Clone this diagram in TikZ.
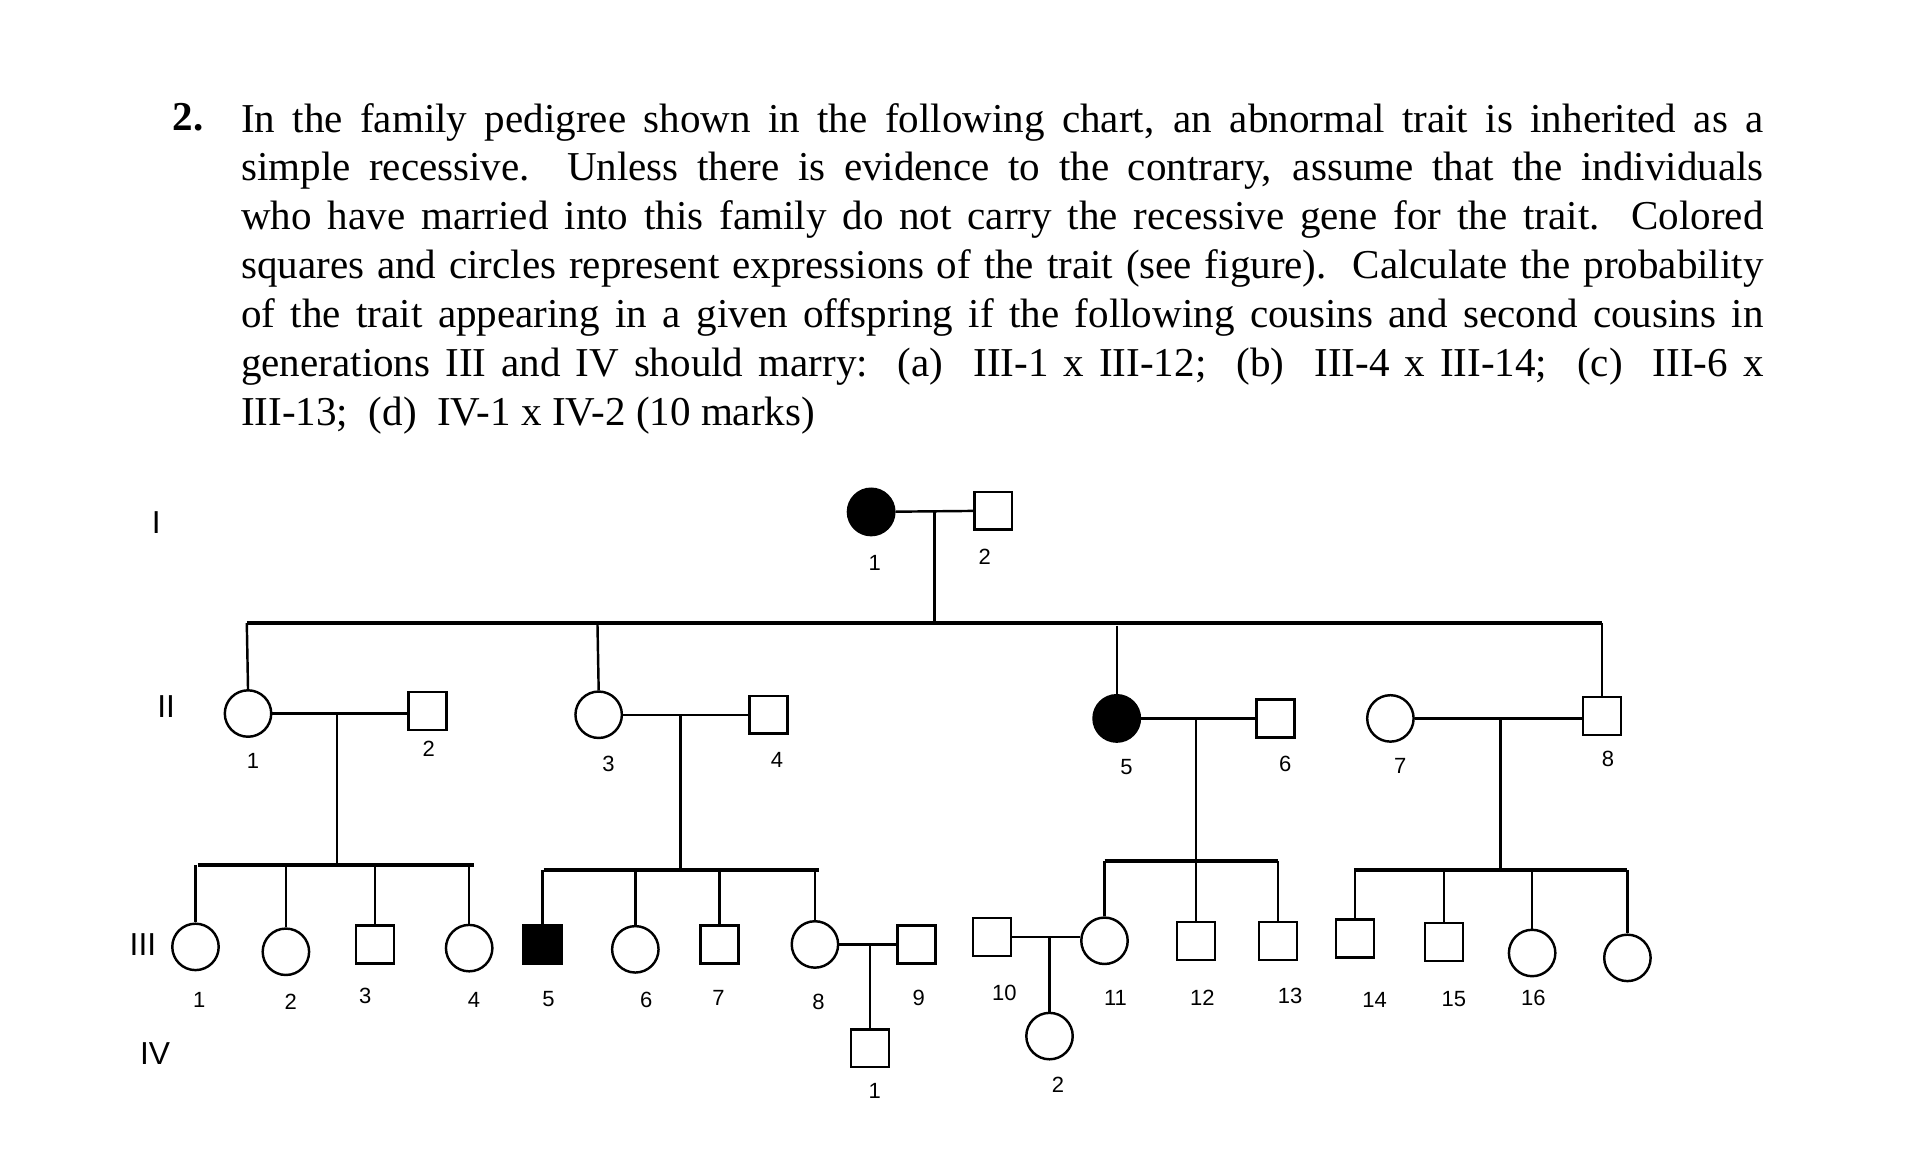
\documentclass[tikz,border=0pt]{standalone}
\usepackage{fontspec}
\setmainfont{Liberation Serif}
\newfontfamily\pedfont{Liberation Sans}
\begin{document}
\begin{tikzpicture}[x=0.5pt,y=-0.5pt,
  ln/.style={line width=1pt},
  sib/.style={line width=1.6pt},
  fem/.style={circle,draw,line width=1pt,minimum size=19pt,inner sep=0pt},
  mal/.style={rectangle,draw,line width=1pt,minimum size=15.5pt,inner sep=0pt},
  aff/.style={fill=black},
  lab/.style={font=\pedfont\fontsize{9}{10}\selectfont},
  gen/.style={font=\pedfont\fontsize{13}{14}\selectfont}]
\useasboundingbox (0,0) rectangle (1560,953);
% question text
\node[anchor=north west,inner sep=0pt,font=\fontsize{16.8}{20}\selectfont\bfseries] (qn) at (141,84) {2.};
\node[anchor=north west,text width=623pt,align=justify,font=\fontsize{16.8}{20}\selectfont,inner sep=0pt] (qt) at (197,84)
{In the family pedigree shown in the following chart, an abnormal trait is inherited as a\linebreak simple recessive.\ \ Unless there is evidence to the contrary, assume that the individuals\linebreak who have married into this family do not carry the recessive gene for the trait.\ \ Colored\linebreak squares and circles represent expressions of the trait (see figure).\ \ Calculate the probability\linebreak of the trait appearing in a given offspring if the following cousins and second cousins in\linebreak generations III and IV should marry:\ \ (a)\ \ III-1 x III-12;\ \ (b)\ \ III-4 x III-14;\ \ (c)\ \ III-6 x\linebreak III-13;\ \ (d)\ \ IV-1 x IV-2 (10 marks)};
% generation labels
\node[gen] (gI) at (128,428) {I};
\node[gen] (gII) at (136,578) {II};
\node[gen] (gIII) at (117,773) {III};
\node[gen] (gIV) at (127,862) {IV};
% generation I
\node[fem,aff] (a1) at (713,419) {};
\node[mal] (a2) at (813,418) {};
\draw[ln] (a1) -- (a2);
\coordinate (m1) at (765,419);
\coordinate (s1) at (765,511);
\draw[ln] (m1) -- (s1);
\coordinate (sL) at (202,510); \coordinate (sR) at (1311,510);
\draw[sib] (sL) -- (sR);
% generation II
\node[fem] (b1) at (203,584) {};
\node[mal] (b2) at (350,582) {};
\node[fem] (b3) at (490,585) {};
\node[mal] (b4) at (629,585) {};
\node[fem,aff] (b5) at (914,588) {};
\node[mal] (b6) at (1044,588) {};
\node[fem] (b7) at (1138,588) {};
\node[mal] (b8) at (1311,586) {};
\draw[ln] (sL) -- (b1.north);
\draw[ln] (489,510) -- (b3.north);
\draw[ln] (914,512) -- (b5.north);
\draw[ln] (sR) -- (b8.north);
\draw[ln] (b1) -- (b1 -| b2.west);
\draw[ln] (b3) -- (b3 -| b4.west);
\draw[ln] (b5) -- (b5 -| b6.west);
\draw[ln] (b7) -- (b7 -| b8.west);
% generation III
\node[fem] (c1) at (160,775) {};
\node[fem] (c2) at (234,779) {};
\node[mal] (c3) at (307,773) {};
\node[fem] (c4) at (384,776) {};
\node[mal,aff] (c5) at (444,773) {};
\node[fem] (c6) at (520,777) {};
\node[mal] (c7) at (589,773) {};
\node[fem] (c8) at (667,773) {};
\node[mal] (c9) at (750,773) {};
\node[mal] (c10) at (812,767) {};
\node[fem] (c11) at (904,770) {};
\node[mal] (c12) at (979,770) {};
\node[mal] (c13) at (1046,770) {};
\node[mal] (c14) at (1109,768) {};
\node[mal] (c15) at (1182,771) {};
\node[fem] (c16) at (1254,780) {};
\node[fem] (c17) at (1332,784) {};
% sibships
\draw[ln] (276,584) -- (276,708);
\draw[sib] (162,708) -- (388,708);
\foreach \n in {c1,c2,c3,c4} \draw[ln] (\n.north |- 0,708) -- (\n.north);
\draw[ln] (557,585) -- (557,712);
\draw[sib] (445,712) -- (670,712);
\foreach \n in {c5,c6,c7,c8} \draw[ln] (\n.north |- 0,712) -- (\n.north);
\draw[ln] (979,588) -- (c12.north);
\draw[sib] (904,705) -- (1046,705);
\foreach \n in {c11,c13} \draw[ln] (\n.north |- 0,705) -- (\n.north);
\draw[ln] (1228,588) -- (1228,712);
\draw[sib] (1108,712) -- (1332,712);
\foreach \n in {c14,c15,c16,c17} \draw[ln] (\n.north |- 0,712) -- (\n.north);
% marriages III
\draw[ln] (c8) -- (c8 -| c9.west);
\draw[ln] (c10) -- (c10 -| c11.west);
% generation IV
\node[mal] (d1) at (712,858) {};
\node[fem] (d2) at (859,848) {};
\draw[ln] (712,774) -- (d1.north);
\draw[ln] (859,768) -- (d2.north);
% labels
\foreach \x/\y/\t in {716/461/1,806/456/2,207/623/1,351/613/2,498/625/3,636/622/4,922/628/5,1052/625/6,1146/627/7,1316/621/8,
163/818/1,238/820/2,299/815/3,388/818/4,449/818/5,529/818/6,588/817/7,670/820/8,752/817/9,822/813/10,913/817/11,984/817/12,1056/815/13,1125/818/14,1190/818/15,1255/817/16,716/893/1,866/888/2}
  \node[lab] at (\x,\y) {\t};
\end{tikzpicture}
\end{document}
